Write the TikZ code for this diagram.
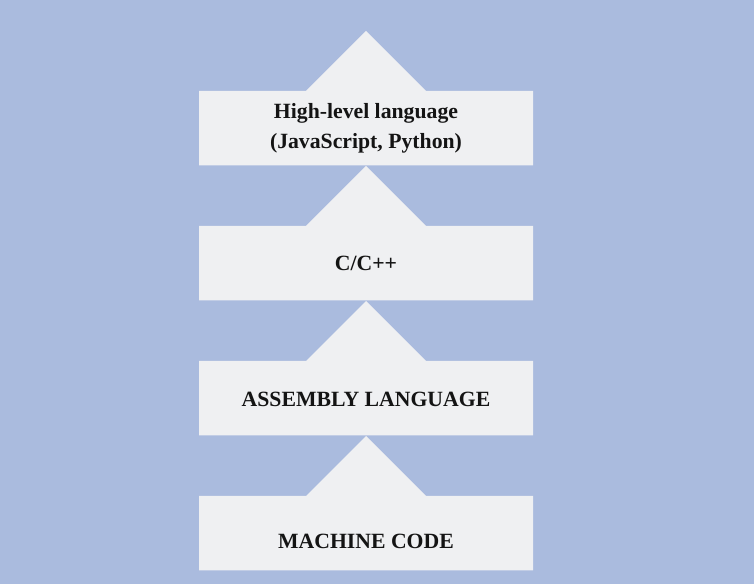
\documentclass[tikz,border=0pt]{standalone}
\usepackage{fontspec}
\setmainfont{Liberation Serif}
\definecolor{bgblue}{RGB}{170,187,222}
\definecolor{boxwhite}{RGB}{239,240,242}
\definecolor{txt}{RGB}{20,20,20}
\begin{document}
\begin{tikzpicture}[x=0.75pt,y=-0.75pt,
  lvlbox/.style={fill=boxwhite,draw=none},
  lbl/.style={font=\bfseries\fontsize{16.3}{22.5}\selectfont,text=txt,align=center,inner sep=0pt}]
\fill[bgblue] (0,0) rectangle (754,584);
\useasboundingbox (0,0) rectangle (754,584);
% shapes: rectangle with triangle on top
\foreach \i/\top in {1/91,2/226,3/361,4/496}{
  \fill[lvlbox] (199,\top) -- (306,\top) -- (366,\top-60) -- (426,\top) -- (533,\top)
     -- (533,\top+74.5) -- (199,\top+74.5) -- cycle;
}
\node[lbl] (high) at (366,128.5) {High-level language\\(JavaScript, Python)};
\node[lbl] (c) at (366,263) {C/C++};
\node[lbl] (asm) at (366,399) {ASSEMBLY LANGUAGE};
\node[lbl] (mc) at (366,541) {MACHINE CODE};
\end{tikzpicture}
\end{document}
